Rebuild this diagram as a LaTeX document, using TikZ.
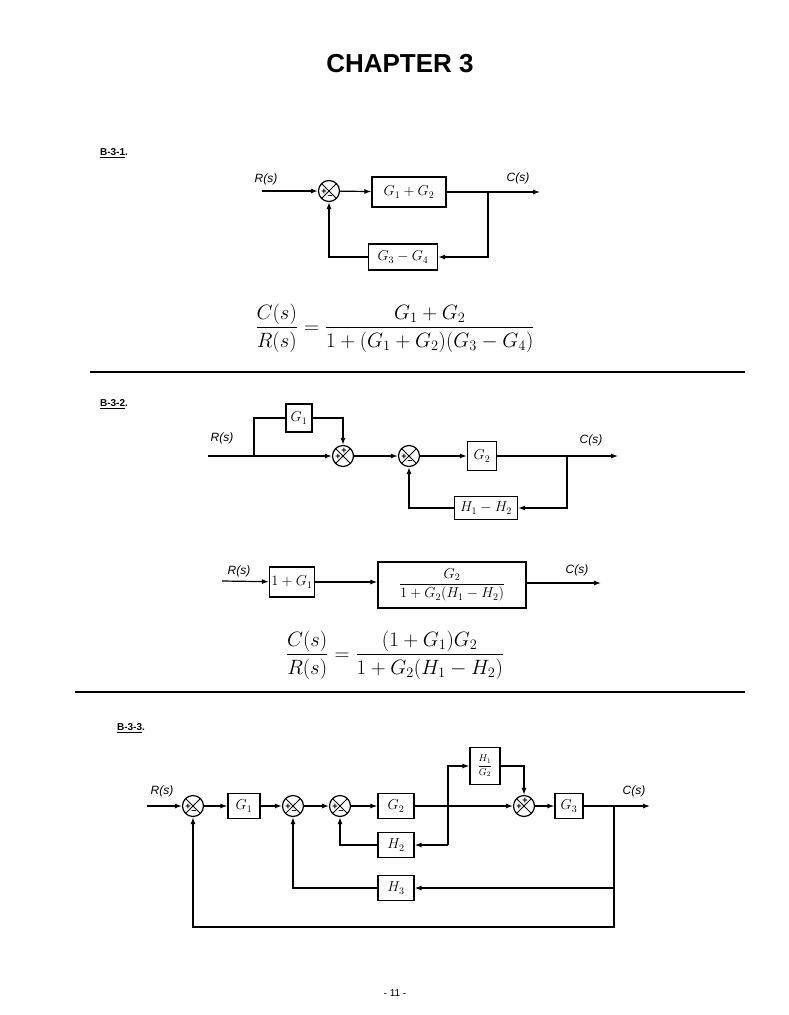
\documentclass[tikz,border=0pt]{standalone}
\usepackage{amsmath}
\usepackage{fontspec}
\setmainfont{Liberation Sans}
\usetikzlibrary{arrows.meta,calc}
\begin{document}
\begin{tikzpicture}[x=1pt,y=-1pt,line width=1.2pt,
  sum/.style={circle,draw,minimum size=21pt,inner sep=0pt,
    path picture={\draw[line width=1pt] (path picture bounding box.north west)--(path picture bounding box.south east)
      (path picture bounding box.north east)--(path picture bounding box.south west);}},
  blk/.style={draw,rectangle,inner sep=2pt,font=\Large},
  lbl/.style={font=\itshape\large},
  sgn/.style={font=\bfseries\small,inner sep=0pt},
  arr/.style={-{Latex[length=7pt,width=5pt]}},
  hd/.style={font=\bfseries\normalsize,inner sep=0pt}]
\useasboundingbox (0,0) rectangle (789,1015);
\fill[white] (0,0) rectangle (789,1015);
\node[font=\bfseries\fontsize{26}{30}\selectfont] (title) at (400,64) {CHAPTER 3};
% ---------- B-3-1
\node[hd] (h1) at (114,153) {\underline{B-3-1}.};
\coordinate (r1) at (262,191);
\node[lbl] (R1) at (266,179) {R(s)};
\node[sum] (s1) at (329,191) {};
\node[sgn] at ($(s1)+(-5,1)$) {+};
\node[sgn] at ($(s1)+(1,6)$) {–};
\node[blk,minimum width=74pt,minimum height=30pt] (g12) at (409,192) {$G_1+G_2$};
\coordinate (o1) at (540,192);
\coordinate (b1) at (488,192);
\node[lbl] (C1) at (518,178) {C(s)};
\node[blk,minimum width=69pt,minimum height=26pt] (g34) at (403,257) {$G_3-G_4$};
\draw[arr] (r1)--(s1);
\draw[arr] (s1)--(g12);
\draw[arr] (g12)--(o1);
\draw[arr] (b1)|-(g34);
\draw[arr] (g34)-|(s1);
\node[scale=1.2] (eq1) at (395,328) {\LARGE $\dfrac{C(s)}{R(s)}=\dfrac{G_1+G_2}{1+(G_1+G_2)(G_3-G_4)}$};
\draw (90,372)--(745,372);
% ---------- B-3-2
\node[hd] (h2) at (114,404) {\underline{B-3-2}.};
\coordinate (r2) at (208,456);
\node[lbl] (R2) at (222,438) {R(s)};
\coordinate (b2) at (254,456);
\node[sum] (sa) at (343,456) {};
\node[sgn] at ($(sa)+(-5,1)$) {+};
\node[sgn] at ($(sa)+(1,-5)$) {+};
\node[sum] (sb) at (409,456) {};
\node[sgn] at ($(sb)+(-5,1)$) {+};
\node[sgn] at ($(sb)+(1,6)$) {–};
\node[blk,minimum width=26pt,minimum height=28pt] (g1) at (299,418) {$G_1$};
\node[blk,minimum width=29pt,minimum height=29pt] (g2) at (482,456) {$G_2$};
\coordinate (o2) at (618,456);
\coordinate (b3) at (567,456);
\node[lbl] (C2) at (591,440) {C(s)};
\node[blk,minimum width=63pt,minimum height=23pt] (h12) at (486,508) {$H_1-H_2$};
\draw[arr] (r2)--(sa);
\draw (b2)|-(g1);
\draw[arr] (g1)-|(sa);
\draw[arr] (sa)--(sb);
\draw[arr] (sb)--(g2);
\draw[arr] (g2)--(o2);
\draw[arr] (b3)|-(h12);
\draw[arr] (h12)-|(sb);
% reduced
\coordinate (r3) at (222,581);
\node[lbl] (R3) at (239,571) {R(s)};
\node[blk,minimum width=44pt,minimum height=30pt] (a1) at (292,582) {$1+G_1$};
\node[draw,minimum width=148pt,minimum height=46pt,inner sep=0pt,font=\Large] (a2) at (452,585) {$\dfrac{\quad G_2\quad}{1+G_2(H_1-H_2)}$};
\coordinate (o3) at (601,583);
\node[lbl] (C3) at (577,570) {C(s)};
\draw[arr] (r3)--(a1);
\draw[arr] (a1)--(a2.west|-a1);
\draw[arr] (a2.east|-o3)--(o3);
\node[scale=1.2] (eq2) at (395,655) {\LARGE $\dfrac{C(s)}{R(s)}=\dfrac{(1+G_1)G_2}{1+G_2(H_1-H_2)}$};
\draw (75,692)--(745,692);
% ---------- B-3-3
\node[hd] (h3) at (131,728) {\underline{B-3-3}.};
\coordinate (r4) at (147,806);
\node[lbl] (R4) at (162,791) {R(s)};
\node[sum] (t1) at (193,806) {};
\node[sgn] at ($(t1)+(-5,1)$) {+};
\node[sgn] at ($(t1)+(1,6)$) {–};
\node[blk,minimum width=32pt,minimum height=25pt] (q1) at (244,806) {$G_1$};
\node[sum] (t2) at (293,806) {};
\node[sgn] at ($(t2)+(-5,1)$) {+};
\node[sgn] at ($(t2)+(1,6)$) {–};
\node[sum] (t3) at (340,806) {};
\node[sgn] at ($(t3)+(-5,1)$) {+};
\node[sgn] at ($(t3)+(1,6)$) {–};
\node[blk,minimum width=36pt,minimum height=25pt] (q2) at (396,806) {$G_2$};
\coordinate (b4) at (448,806);
\node[blk,minimum width=30pt,minimum height=37pt,inner sep=1pt,font=\normalsize] (q4) at (485,766) {$\dfrac{H_1}{G_2}$};
\node[sum] (t4) at (524,806) {};
\node[sgn] at ($(t4)+(-5,1)$) {+};
\node[sgn] at ($(t4)+(1,-5)$) {+};
\node[blk,minimum width=28pt,minimum height=25pt] (q3) at (569,806) {$G_3$};
\coordinate (o4) at (650,806);
\coordinate (b5) at (614,806);
\node[lbl] (C4) at (634,791) {C(s)};
\node[blk,minimum width=36pt,minimum height=25pt] (hh2) at (396,845) {$H_2$};
\node[blk,minimum width=36pt,minimum height=25pt] (hh3) at (396,888) {$H_3$};
\coordinate (bot) at (614,927);
\draw[arr] (r4)--(t1);
\draw[arr] (t1)--(q1);
\draw[arr] (q1)--(t2);
\draw[arr] (t2)--(t3);
\draw[arr] (t3)--(q2);
\draw[arr] (q2)--(t4);
\draw[arr] (t4)--(q3);
\draw[arr] (q3)--(o4);
\draw[arr] (b4|-hh2) |- (q4);
\draw[arr] (q4)-|(t4);
\draw[arr] (b4|-hh2)--(hh2);
\draw[arr] (hh2)-|(t3);
\draw[arr] (b5|-hh3)--(hh3);
\draw[arr] (hh3)-|(t2);
\draw[arr] (b5)|-(bot)-|(t1);
\node[font=\normalsize] (pg) at (395,993) {- 11 -};
\end{tikzpicture}
\end{document}
